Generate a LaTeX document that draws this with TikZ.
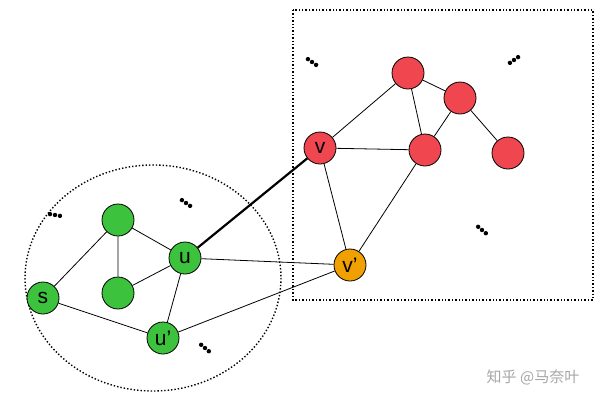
\documentclass[tikz,border=0pt]{standalone}
\usepackage{fontspec}
\setmainfont{Liberation Sans}
\newfontfamily\cjk{Noto Sans CJK SC}
\definecolor{gr}{HTML}{3CC23C}
\definecolor{rd}{HTML}{F04650}
\definecolor{og}{HTML}{F0A000}
\begin{document}
\begin{tikzpicture}[x=1pt,y=-1pt,line width=0.8pt,
  vtx/.style={circle,draw=black,line width=0.8pt,minimum size=32pt,inner sep=0pt,font=\fontsize{21}{21}\selectfont},
  g/.style={vtx,fill=gr},r/.style={vtx,fill=rd},o/.style={vtx,fill=og},
  pics/dts/.style={code={\foreach \i in {-1,0,1}{\fill (\i*5,0) circle (2.2);}}}]
\useasboundingbox (0,0) rectangle (600,400);
\draw[dotted,line width=1.4pt] (153,278) ellipse (128 and 113);
\draw[dotted,line width=1.4pt] (293,10) rectangle (593,300);
\node[g] (a) at (118,220) {};
\node[g] (u) at (185,258) {u};
\node[g] (b) at (118,293) {};
\node[g] (s) at (43,298) {s};
\node[g] (up) at (163,338) {u'};
\node[r] (v) at (320,148) {v};
\node[r] (c) at (408,73) {};
\node[r] (d) at (460,98) {};
\node[r] (e) at (425,150) {};
\node[r] (f) at (508,153) {};
\node[o] (vp) at (350,265) {v'};
\draw (s)--(a) (s)--(up) (a)--(u) (a)--(b) (b)--(u) (u)--(up) (u)--(vp) (up)--(vp)
 (v)--(vp) (v)--(c) (v)--(e) (c)--(e) (c)--(d) (d)--(e) (d)--(f) (e)--(vp);
\draw[line width=2.2pt] (u)--(v);
\pic[rotate=-10] at (55,215) {dts};
\pic[rotate=-35] at (186,203) {dts};
\pic[rotate=-35] at (312,62) {dts};
\pic[rotate=35] at (514,60) {dts};
\pic[rotate=-40] at (482,230) {dts};
\pic[rotate=-40] at (205,348) {dts};
\node[text=gray!70,font=\cjk\fontsize{15}{15}\selectfont] (w) at (533,377) {知乎 @马奈叶};
\end{tikzpicture}
\end{document}
